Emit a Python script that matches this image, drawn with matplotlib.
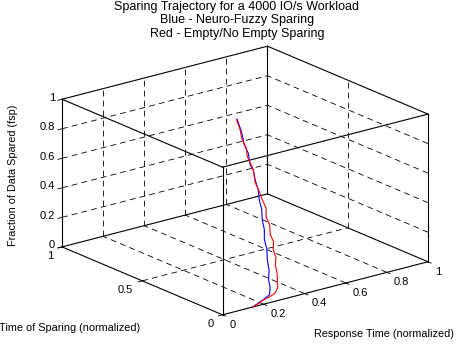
import matplotlib
matplotlib.use('Agg')
import matplotlib.pyplot as plt
from mpl_toolkits.mplot3d import proj3d

# trajectories (response time, time of sparing, fraction spared)
red_resp = [0.146, 0.178, 0.207, 0.240, 0.271, 0.292, 0.299, 0.312, 0.319, 0.334, 0.335, 0.350, 0.347,
            0.361, 0.358, 0.374, 0.371, 0.372, 0.369, 0.382, 0.378, 0.388, 0.384, 0.392, 0.393]
red_time = [0.000, 0.004, 0.010, 0.013, 0.018, 0.029, 0.041, 0.059, 0.079, 0.095, 0.113, 0.130, 0.147,
            0.168, 0.186, 0.208, 0.228, 0.248, 0.269, 0.298, 0.330, 0.349, 0.370, 0.393, 0.416]
red_frac = [0.000, 0.010, 0.023, 0.030, 0.043, 0.070, 0.098, 0.140, 0.188, 0.225, 0.269, 0.310, 0.351,
            0.400, 0.444, 0.495, 0.543, 0.590, 0.640, 0.710, 0.786, 0.830, 0.880, 0.935, 0.990]

blue_resp = [0.146, 0.190, 0.220, 0.242, 0.258, 0.263, 0.282, 0.292, 0.308, 0.313, 0.330,
             0.337, 0.352, 0.358, 0.370, 0.374, 0.381, 0.377, 0.388, 0.385, 0.394, 0.396]
blue_time = [0.000, 0.007, 0.013, 0.017, 0.034, 0.050, 0.071, 0.095, 0.118, 0.140, 0.162,
             0.184, 0.206, 0.230, 0.252, 0.276, 0.294, 0.311, 0.336, 0.358, 0.386, 0.416]
blue_frac = [0.000, 0.017, 0.030, 0.041, 0.080, 0.120, 0.170, 0.225, 0.280, 0.333, 0.385,
             0.439, 0.490, 0.547, 0.600, 0.656, 0.700, 0.740, 0.800, 0.852, 0.920, 0.991]

x_ticks = [0, 0.2, 0.4, 0.6, 0.8, 1]
y_ticks = [0, 0.5, 1]
z_ticks = [0, 0.2, 0.4, 0.6, 0.8, 1]
x_labels = ['0', '0.2', '0.4', '0.6', '0.8', '1']
y_labels = ['0', '0.5', '1']
z_labels = ['0', '0.2', '0.4', '0.6', '0.8', '1']

plt.rcParams['font.family'] = ['Liberation Sans', 'DejaVu Sans']

fig = plt.figure(figsize=(4.74, 3.55), dpi=100)
ax = fig.add_axes([0.1, 0.05, 0.85, 0.85], projection='3d')
ax.set_proj_type('ortho')
ax.view_init(elev=19.3, azim=-128)
ax.set_box_aspect((1, 1, 0.6))
ax.set_axis_off()
ax.set_xlim(0, 1)
ax.set_ylim(0, 1)
ax.set_zlim(0, 1)

grid = dict(color='black', lw=0.6, linestyle=(0, (7, 5)))
# grid on the floor and the two back walls
for v in x_ticks[1:-1]:
    ax.plot([v, v], [0, 1], [0, 0], **grid)
    ax.plot([v, v], [1, 1], [0, 1], **grid)
for v in y_ticks[1:-1]:
    ax.plot([0, 1], [v, v], [0, 0], **grid)
    ax.plot([1, 1], [v, v], [0, 1], **grid)
for v in z_ticks[1:-1]:
    ax.plot([0, 1], [1, 1], [v, v], **grid)
    ax.plot([1, 1], [0, 1], [v, v], **grid)

# box edges
edges = [((0, 1), (0, 0), (0, 0)), ((0, 1), (1, 1), (0, 0)), ((0, 1), (0, 0), (1, 1)), ((0, 1), (1, 1), (1, 1)),
         ((0, 0), (0, 1), (0, 0)), ((1, 1), (0, 1), (0, 0)), ((0, 0), (0, 1), (1, 1)), ((1, 1), (0, 1), (1, 1)),
         ((0, 0), (0, 0), (0, 1)), ((1, 1), (0, 0), (0, 1)), ((0, 0), (1, 1), (0, 1)), ((1, 1), (1, 1), (0, 1))]
for ex, ey, ez in edges:
    ax.plot(ex, ey, ez, color='black', lw=0.8)

# tick marks
for v in x_ticks:
    ax.plot([v, v], [0, -0.02], [0, 0], color='black', lw=0.6)
for v in y_ticks:
    ax.plot([0, -0.02], [v, v], [0, 0], color='black', lw=0.6)
for v in z_ticks:
    ax.plot([0, -0.02], [1, 1], [v, v], color='black', lw=0.6)

ax.plot(blue_resp, blue_time, blue_frac, color='blue', lw=0.8)
ax.plot(red_resp, red_time, red_frac, color='red', lw=0.8)

W, H = fig.bbox.width, fig.bbox.height


def to_pixels(xs, ys, zs):
    px, py, _ = proj3d.proj_transform(xs, ys, zs, ax.get_proj())
    return ax.transData.transform(list(zip(px, py)))


# fit the drawn box to its place in the reference
fig.canvas.draw()
pts = to_pixels([0, 1, 0, 1, 0, 1, 0, 1], [0, 0, 1, 1, 0, 0, 1, 1], [0, 0, 0, 0, 1, 1, 1, 1])
bw = pts[:, 0].max() - pts[:, 0].min()
bc = ((pts[:, 0].max() + pts[:, 0].min()) / 2, (pts[:, 1].max() + pts[:, 1].min()) / 2)
tw = 428 - 62
tc = ((428 + 62) / 2, 355 - (46 + 315) / 2)
s = tw / bw
bb = ax.get_position()
acx, acy = (bb.x0 + bb.width / 2) * W, (bb.y0 + bb.height / 2) * H
ncx = tc[0] - s * (bc[0] - acx)
ncy = tc[1] - s * (bc[1] - acy)
nw, nh = bb.width * s, bb.height * s
ax.set_position([ncx / W - nw / 2, ncy / H - nh / 2, nw, nh])
fig.canvas.draw()

# tick labels placed like MATLAB, as flat text at the projected anchor points
xp = to_pixels(x_ticks, [-0.044] * len(x_ticks), [-0.012] * len(x_ticks))
for (px, py), lab in zip(xp, x_labels):
    fig.text(px / W, py / H, lab, ha='left', va='top', fontsize=8)
yp = to_pixels([-0.044] * len(y_ticks), y_ticks, [-0.014] * len(y_ticks))
for (px, py), lab in zip(yp, y_labels):
    fig.text(px / W, py / H, lab, ha='right', va='top', fontsize=8)
zp = to_pixels([-0.021] * len(z_ticks), [1.0165] * len(z_ticks), [v + 0.01 for v in z_ticks])
for (px, py), lab in zip(zp, z_labels):
    fig.text(px / W, py / H, lab, ha='right', va='center', fontsize=8)

fig.text(0.5, 1 - 7 / 355, 'Sparing Trajectory for a 4000 IO/s Workload', ha='center', va='center', fontsize=9)
fig.text(0.5, 1 - 20.5 / 355, 'Blue - Neuro-Fuzzy Sparing', ha='center', va='center', fontsize=9)
fig.text(0.5, 1 - 34 / 355, 'Red - Empty/No Empty Sparing', ha='center', va='center', fontsize=9)
fig.text(384 / 474, 1 - 334 / 355, 'Response Time (normalized)', ha='center', va='center', fontsize=7.8)
fig.text(70 / 474, 1 - 328 / 355, 'Time of Sparing (normalized)', ha='center', va='center', fontsize=7.8)
fig.text(13 / 474, 1 - 175 / 355, 'Fraction of Data Spared (fsp)', ha='center', va='center',
         rotation=90, fontsize=7.8)

fig.savefig('out.png', dpi=100)
